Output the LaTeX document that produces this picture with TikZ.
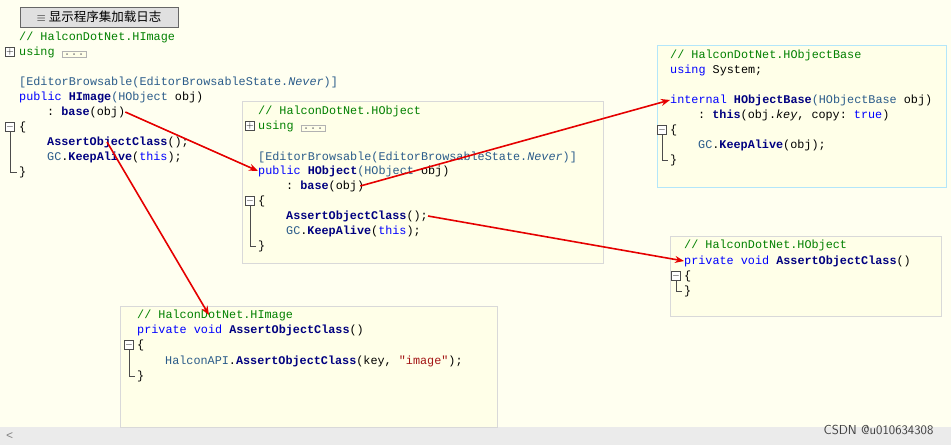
\documentclass[tikz,border=0pt]{standalone}
\usepackage{fontspec}
\setmonofont{Liberation Mono}
\newfontfamily\cjk{Noto Sans CJK SC}
\usetikzlibrary{positioning,arrows.meta}
\definecolor{bgyel}{HTML}{FFFFF0}
\definecolor{panyel}{HTML}{FFFFE8}
\definecolor{kwblue}{HTML}{0000FF}
\definecolor{tyblue}{HTML}{2B5C8A}
\definecolor{cmgreen}{HTML}{008000}
\definecolor{strbrown}{HTML}{A31515}
\definecolor{idnavy}{HTML}{000080}
\newcommand{\kw}[1]{\textcolor{kwblue}{#1}}
\newcommand{\ty}[1]{\textcolor{tyblue}{#1}}
\newcommand{\cm}[1]{\textcolor{cmgreen}{#1}}
\newcommand{\id}[1]{\textcolor{idnavy}{\bfseries #1}}
\newcommand{\collapsed}{{\setlength{\fboxsep}{1.5pt}\fcolorbox{gray!60}{panyel}{\textcolor{gray}{...}}}}
\begin{document}
\begin{tikzpicture}[x=1pt,y=-1pt,
  code/.style={anchor=west,inner sep=0pt,font=\ttfamily\fontsize{11.8}{13}\selectfont},
  panel/.style={fill=panyel,draw=black!15,line width=1pt},
  fold/.style={draw=black!70,fill=white,minimum size=9pt,inner sep=0pt,line width=.5pt,
    font=\sffamily\fontsize{10}{10}\selectfont},
  link/.style={-{Stealth[length=9pt,width=7pt]},draw=red!90!black,line width=1.6pt}]
  \useasboundingbox[fill=bgyel] (0,0) rectangle (951,445);
  % bottom scrollbar
  \fill[black!8] (0,427) rectangle (951,445);
  \node[code,text=gray] (sbl) at (6,436) {<};
  % button
  \node[draw=black!60,fill=black!12,minimum width=158pt,minimum height=20pt,inner sep=0pt,
    font=\cjk\fontsize{12.5}{13}\selectfont] (btn) at (99,17) {$\equiv$\ 显示程序集加载日志};

  % panel HImage ctor
  \node[code] (c1) at (19,37) {\cm{// HalconDotNet.HImage}};
  \node[code] (u1) at (19,52) {\textcolor{cmgreen}{using} \collapsed};
  \node[code] (a1) at (19,82) {\ty{[EditorBrowsable(EditorBrowsableState.\textit{Never})]}};
  \node[code] (p1) at (19,97) {\kw{public} \id{HImage}\ty{(HObject} obj)};
  \node[code] (b1) at (47,112) {: \id{base}(obj)};
  \node[code] (o1) at (19,127) {\{};
  \node[code] (s1) at (47,142) {\id{AssertObjectClass}();};
  \node[code] (g1) at (47,157) {\ty{GC}.\id{KeepAlive}(\kw{this});};
  \node[code] (e1) at (19,172) {\}};
  \node[fold] at (10,52) {+};
  \node[fold] at (10,127) {$-$};
  \draw[black!70] (10,131.5) |- (17,172);

  % panel HObject ctor
  \draw[panel] (242,101) rectangle (603,263);
  \node[code] (c2) at (258,111) {\cm{// HalconDotNet.HObject}};
  \node[code] (u2) at (258,126) {\textcolor{cmgreen}{using} \collapsed};
  \node[code] (a2) at (258,157) {\ty{[EditorBrowsable(EditorBrowsableState.\textit{Never})]}};
  \node[code] (p2) at (258,171) {\kw{public} \id{HObject}\ty{(HObject} obj)};
  \node[code] (b2) at (286,186) {: \id{base}(obj)};
  \node[code] (o2) at (258,201) {\{};
  \node[code] (s2) at (286,216) {\id{AssertObjectClass}();};
  \node[code] (g2) at (286,231) {\ty{GC}.\id{KeepAlive}(\kw{this});};
  \node[code] (e2) at (258,246) {\}};
  \node[fold] at (250,126) {+};
  \node[fold] at (250,201) {$-$};
  \draw[black!70] (250,205.5) |- (256,246);

  % panel HObjectBase ctor
  \draw[panel,draw=cyan!30] (657,45) rectangle (946,187);
  \node[code] (c3) at (670,55) {\cm{// HalconDotNet.HObjectBase}};
  \node[code] (u3) at (670,70) {\kw{using} System;};
  \node[code] (p3) at (670,100) {\kw{internal} \id{HObjectBase}\ty{(HObjectBase} obj)};
  \node[code] (b3) at (698,115) {: \id{this}(obj.\textit{key}, copy: \kw{true})};
  \node[code] (o3) at (670,130) {\{};
  \node[code] (g3) at (698,145) {\ty{GC}.\id{KeepAlive}(obj);};
  \node[code] (e3) at (670,160) {\}};
  \node[fold] at (662,130) {$-$};
  \draw[black!70] (662,134.5) |- (668,160);

  % panel HObject AssertObjectClass
  \draw[panel] (670,236) rectangle (941,316);
  \node[code] (c4) at (684,245) {\cm{// HalconDotNet.HObject}};
  \node[code] (p4) at (684,261) {\kw{private} \kw{void} \id{AssertObjectClass}()};
  \node[code] (o4) at (684,276) {\{};
  \node[code] (e4) at (684,291) {\}};
  \node[fold] at (676,276) {$-$};
  \draw[black!70] (676,280.5) |- (682,291);

  % panel HImage AssertObjectClass
  \draw[panel] (120,306) rectangle (497,427);
  \node[code] (c5) at (137,315) {\cm{// HalconDotNet.HImage}};
  \node[code] (p5) at (137,330) {\kw{private} \kw{void} \id{AssertObjectClass}()};
  \node[code] (o5) at (137,345) {\{};
  \node[code] (h5) at (165,361) {\ty{HalconAPI}.\id{AssertObjectClass}(key, \textcolor{strbrown}{"image"});};
  \node[code] (e5) at (137,376) {\}};
  \node[fold] at (129,345) {$-$};
  \draw[black!70] (129,349.5) |- (135,376);

  \node[text=black!75,font=\fontsize{13}{14}\selectfont\sffamily,anchor=east] (wm) at (937,430) {CSDN @u010634308};

  % call links
  \draw[link] (b1.east) -- (p2.west);
  \draw[link] ([xshift=-82pt]s1.east) -- ([xshift=72pt]c5.west);
  \draw[link] ([xshift=-4pt]b2.east) -- (p3.west);
  \draw[link] (s2.east) -- (p4.west);
\end{tikzpicture}
\end{document}
